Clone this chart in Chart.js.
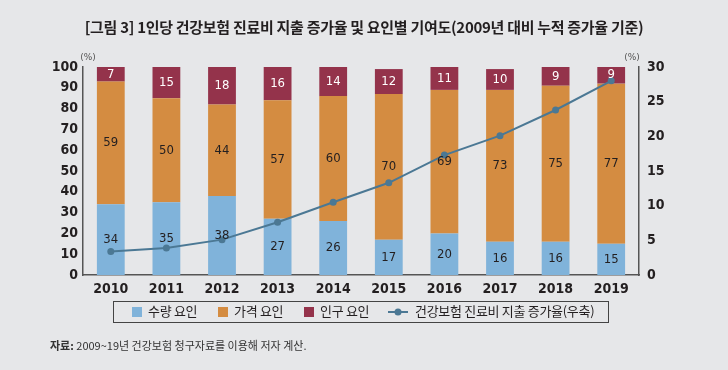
<!DOCTYPE html>
<html>
<head>
<meta charset="utf-8">
<script src="https://cdn.jsdelivr.net/npm/chart.js@4.4.0/dist/chart.umd.min.js"></script>
<style>
  html, body { margin: 0; padding: 0; background: #e6e7e9; }
  #wrap { position: relative; width: 728px; height: 370px; overflow: hidden;
          font-family: "Noto Sans CJK KR", "Noto Sans", sans-serif; color: #231f20; }
  #title { position: absolute; top: 16px; left: 0; width: 728px; text-align: center;
           font-size: 15px; font-weight: bold; letter-spacing: -0.3px; }
  #legend { position: absolute; left: 113px; top: 301px; width: 494px; height: 20px;
            border: 1.5px solid #444; font-size: 13px; letter-spacing: -0.3px; }
  .item { position: absolute; top: 0; height: 20px; line-height: 20px; white-space: nowrap; }
  .sw { position: absolute; top: 5px; left: 0; width: 10px; height: 10px; }
  .item span.t { position: absolute; left: 16px; top: -1px; }
  #source { position: absolute; left: 50px; top: 337px; font-size: 11px; color: #333; }
</style>
</head>
<body>
<div id="wrap">
  <div id="title">[그림 3] 1인당 건강보험 진료비 지출 증가율 및 요인별 기여도(2009년 대비 누적 증가율 기준)</div>
  <canvas id="chart" width="728" height="370"></canvas>
  <div id="legend"></div>
  <div id="source"><b>자료:</b> 2009~19년 건강보험 청구자료를 이용해 저자 계산.</div>
</div>
<script>
var years = ['2010', '2011', '2012', '2013', '2014', '2015', '2016', '2017', '2018', '2019'];
var volume = [34, 35, 38, 27, 26, 17, 20, 16, 16, 15];      // 수량 요인
var price = [59, 50, 44, 57, 60, 70, 69, 73, 75, 77];       // 가격 요인
var population = [7, 15, 18, 16, 14, 12, 11, 10, 9, 9];     // 인구 요인
var growth = [3.4, 3.9, 5.1, 7.6, 10.5, 13.3, 17.3, 20.1, 23.8, 28.0]; // 진료비 지출 증가율(우축)

var seriesNames = ['수량 요인', '가격 요인', '인구 요인', '건강보험 진료비 지출 증가율(우축)'];
var colors = ['#80b3da', '#d48c41', '#94334b', '#4b7894'];
var tickFont = { family: '"Liberation Sans Narrow", "DejaVu Sans Condensed", sans-serif', size: 14, weight: 'bold' };

// values written inside each bar segment
var barLabels = {
    id: 'barLabels',
    afterDatasetsDraw(chart) {
        var ctx = chart.ctx;
        ctx.save();
        ctx.font = '13px "Liberation Sans Narrow", "DejaVu Sans Condensed", sans-serif';
        ctx.textAlign = 'center';
        ctx.textBaseline = 'middle';
        chart.data.datasets.forEach(function (ds, i) {
            if (ds.type === 'line') return;
            var meta = chart.getDatasetMeta(i);
            ctx.fillStyle = ds.label === seriesNames[2] ? '#ffffff' : '#231f20';
            meta.data.forEach(function (bar, j) {
                var y = (bar.y + bar.base) / 2;
                ctx.fillText(String(ds.data[j]), bar.x, y);
            });
        });
        // unit marks over both axes
        ctx.font = '9px "DejaVu Sans", sans-serif';
        ctx.fillStyle = '#555';
        var a = chart.chartArea;
        ctx.fillText('(%)', a.left + 5, a.top - 9);
        ctx.fillText('(%)', a.right - 7, a.top - 9);
        ctx.restore();
    }
};

new Chart(document.getElementById('chart'), {
    type: 'bar',
    data: {
        labels: years,
        datasets: [
            { label: seriesNames[3], type: 'line', data: growth, yAxisID: 'y2', order: 0,
              borderColor: colors[3], backgroundColor: colors[3], borderWidth: 2,
              pointRadius: 3.5, pointBackgroundColor: colors[3], pointBorderWidth: 0, tension: 0 },
            { label: seriesNames[0], data: volume, backgroundColor: colors[0], order: 1 },
            { label: seriesNames[1], data: price, backgroundColor: colors[1], order: 1 },
            { label: seriesNames[2], data: population, backgroundColor: colors[2], order: 1 }
        ]
    },
    options: {
        responsive: false,
        animation: false,
        datasets: { bar: { categoryPercentage: 1, barPercentage: 0.5 } },
        layout: { padding: { left: 0, right: 0, top: 67, bottom: 75 } },
        plugins: { legend: { display: false }, tooltip: { enabled: false }, title: { display: false } },
        scales: {
            x: {
                stacked: true,
                grid: { display: false, drawTicks: false },
                border: { color: '#555', width: 1.5 },
                ticks: { font: tickFont, color: '#231f20', padding: 6 },
                afterFit(s) { s.height = 20; }
            },
            y: {
                stacked: true, min: 0, max: 100,
                grid: { display: false, drawTicks: false },
                border: { color: '#555', width: 1.5 },
                ticks: { stepSize: 10, font: tickFont, color: '#231f20', padding: 5 },
                afterFit(s) { s.width = 83; }
            },
            y2: {
                position: 'right', min: 0, max: 30,
                grid: { display: false, drawTicks: false },
                border: { color: '#555', width: 1.5 },
                ticks: { stepSize: 5, font: tickFont, color: '#231f20', padding: 8 },
                afterFit(s) { s.width = 89; }
            }
        }
    },
    plugins: [barLabels]
});

// legend strip
var legend = document.getElementById('legend');
var lefts = [18, 104, 190, 274];
seriesNames.forEach(function (name, i) {
    var item = document.createElement('div');
    item.className = 'item';
    item.style.left = lefts[i] + 'px';
    if (i < 3) {
        item.innerHTML = '<div class="sw" style="background:' + colors[i] + '"></div><span class="t">' + name + '</span>';
    } else {
        item.innerHTML = '<svg width="20" height="20" style="position:absolute;left:0;top:0">' +
            '<line x1="0" y1="10" x2="20" y2="10" stroke="' + colors[3] + '" stroke-width="2"/>' +
            '<circle cx="10" cy="10" r="3.5" fill="' + colors[3] + '"/></svg>' +
            '<span class="t" style="left:27px">' + name + '</span>';
    }
    legend.appendChild(item);
});
</script>
</body>
</html>
